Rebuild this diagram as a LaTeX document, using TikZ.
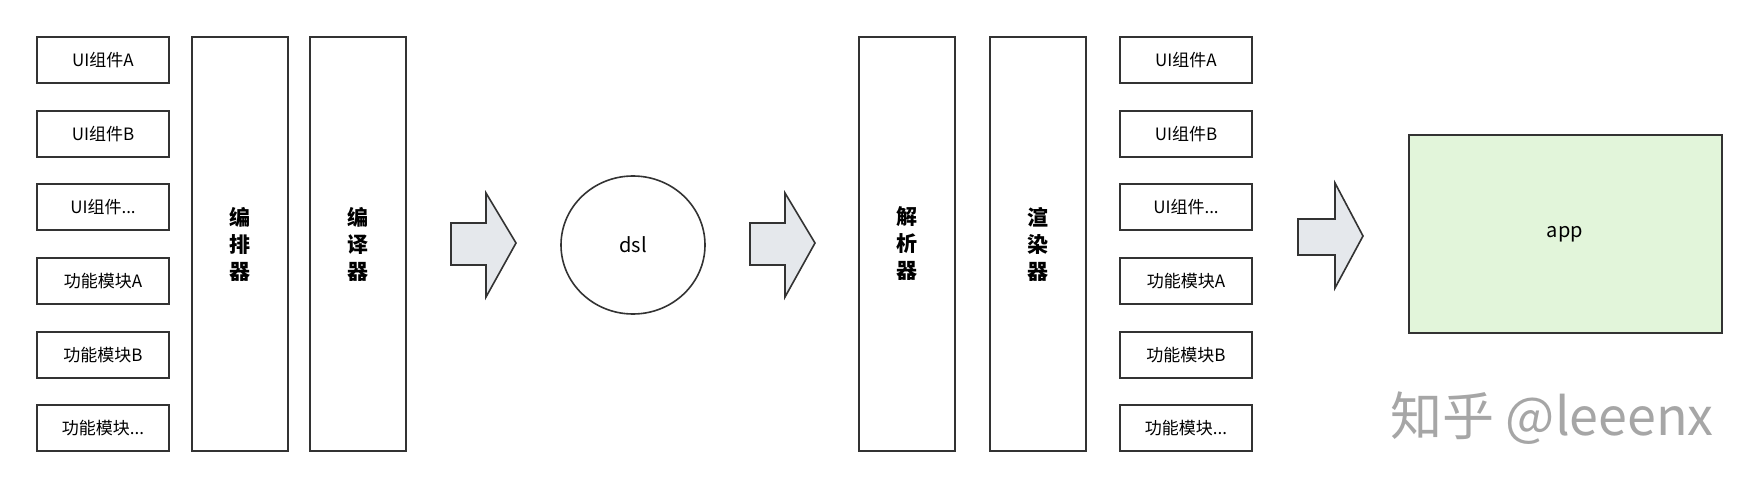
\documentclass[tikz,border=0pt]{standalone}
\usepackage{fontspec}
\setmainfont{Noto Sans CJK SC}
\usetikzlibrary{shapes.geometric}
\definecolor{ln}{HTML}{333333}
\definecolor{arr}{HTML}{E5E8EC}
\definecolor{appg}{HTML}{E2F5DA}
\begin{document}
\begin{tikzpicture}[x=1pt,y=-1pt,
  sbox/.style={draw=ln,line width=2pt,minimum width=132pt,minimum height=46pt,inner sep=0pt,font=\fontsize{17}{20}\selectfont},
  tbox/.style={draw=ln,line width=2pt,minimum width=96pt,minimum height=414pt,inner sep=0pt,font=\fontsize{21}{27}\selectfont\bfseries,align=center},
  bigarrow/.style={draw=ln,line width=1.6pt,fill=arr,line join=miter}]
\useasboundingbox (0,0) rectangle (1759,489);
\foreach \n/\y in {1/60,2/134,3/207,4/281,5/355,6/428}{
  \coordinate (L\n) at (103,\y);
  \coordinate (R\n) at (1186,\y);
}
\node[sbox] (la) at (L1) {UI组件A};
\node[sbox] (lb) at (L2) {UI组件B};
\node[sbox] (lc) at (L3) {UI组件...};
\node[sbox] (ld) at (L4) {功能模块A};
\node[sbox] (le) at (L5) {功能模块B};
\node[sbox] (lf) at (L6) {功能模块...};
\node[tbox] (bp) at (240,244) {编\\排\\器};
\node[tbox] (by) at (358,244) {编\\译\\器};
\draw[bigarrow] (451,223) -- (486,223) -- (486,193) -- (516,243) -- (486,297) -- (486,265) -- (451,265) -- cycle;
\node[ellipse,draw=ln,line width=1.6pt,minimum width=144pt,minimum height=138pt,font=\fontsize{20}{24}\selectfont] (dsl) at (633,245) {dsl};
\draw[bigarrow] (750,223) -- (785,223) -- (785,193) -- (815,243) -- (785,297) -- (785,265) -- (750,265) -- cycle;
\node[tbox] (jx) at (907,244) {解\\析\\器};
\node[tbox] (xr) at (1038,244) {渲\\染\\器};
\node[sbox] (ra) at (R1) {UI组件A};
\node[sbox] (rb) at (R2) {UI组件B};
\node[sbox] (rc) at (R3) {UI组件...};
\node[sbox] (rd) at (R4) {功能模块A};
\node[sbox] (re) at (R5) {功能模块B};
\node[sbox] (rf) at (R6) {功能模块...};
\draw[bigarrow] (1298,219) -- (1335,219) -- (1335,183) -- (1363,236) -- (1335,288) -- (1335,255) -- (1298,255) -- cycle;
\node[draw=ln,line width=2pt,fill=appg,minimum width=313pt,minimum height=197pt,font=\fontsize{20}{24}\selectfont] (app) at (1565,234) {app};
\node[text=black!35,font=\fontsize{52}{58}\selectfont] (wm) at (1552,418) {知乎 @leeenx};
\end{tikzpicture}
\end{document}
